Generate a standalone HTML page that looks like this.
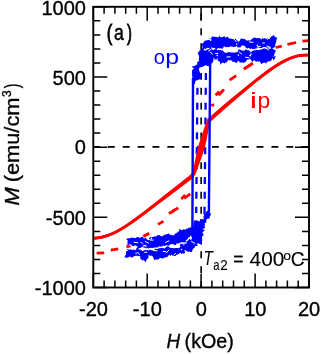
<!DOCTYPE html>
<html><head><meta charset="utf-8"><style>
html,body{margin:0;padding:0;background:#fff;}
svg{display:block;will-change:transform;}
text{font-family:"Liberation Sans",sans-serif;}
</style></head><body>
<svg width="321" height="354" viewBox="0 0 321 354">
<rect width="321" height="354" fill="#fff"/>
<g fill="none" stroke-linecap="butt">
<path d="M201.15 13.43V287.5" stroke="#000" stroke-width="1.6" stroke-dasharray="6.9 7.97"/>
<path d="M93.3 146.9H309" stroke="#000" stroke-width="1.7" stroke-dasharray="6.9 7.97" stroke-dashoffset="0.3"/>
<path d="M197.6 72.9L196.2 213 M205.9 72.9L204.5 213" stroke="#0000ff" stroke-width="2.3" stroke-dasharray="7 7.87"/>
<path d="M93.3 238.3 C94.8 238.1 99.2 237.9 102.1 237.2 C105 236.5 108 235.5 110.9 234.3 C113.8 233.1 116.8 231.6 119.7 229.9 C122.6 228.2 125.6 226.4 128.5 224.4 C131.4 222.4 134.4 220.3 137.3 218.2 C140.2 216.1 143.1 213.9 146 211.7 C148.9 209.5 151.9 207.2 154.8 204.9 C157.7 202.6 160.7 200.4 163.6 198.1 C166.5 195.8 169.5 193.6 172.4 191.3 C175.3 189.1 178.8 186.5 181.2 184.6 C183.6 182.7 185.5 181.2 187 180 C188.5 178.8 189.1 178.4 190 177.7 C190.9 177 191.5 176.8 192.2 175.8 C192.9 174.9 194 172.6 194.4 172 L194.4 172 C195.6 167.8 199.1 155.6 201.5 147 C203.9 138.4 207.4 124.9 208.6 120.5 L208.6 120.5 C209 120.2 209.9 119.6 211 118.6 C212.1 117.6 213.9 116 215.4 114.7 C216.9 113.4 217.6 112.7 219.8 110.8 C222 108.9 225.6 105.8 228.5 103.3 C231.4 100.8 234.4 98.4 237.3 95.9 C240.2 93.5 243.2 91 246.1 88.6 C249 86.2 251.9 83.8 254.8 81.5 C257.7 79.2 260.7 76.9 263.6 74.7 C266.5 72.5 269.4 70.3 272.3 68.3 C275.2 66.3 278.2 64.5 281.1 62.8 C284 61.1 287 59.6 289.9 58.4 C292.8 57.2 296.2 56.2 298.6 55.7 C301 55.2 302.3 55.3 304 55.2 C305.7 55.1 308.2 55 309 55" stroke="#ff0000" stroke-width="2.8" stroke-linejoin="round"/>
<path d="M96.7 253.2L104.2 252.8 M110.8 250.2L118.2 248.9 M126.6 247L130.5 246.4 M143.5 236.2L149.1 233.4 M158 224.4L163.5 221.3 M168.9 213.5L174.5 210.5 M172.5 211L178.3 208 M181.3 198.9L185.2 195 M184.1 198.5L190.3 193.9 M211.3 105.5L214.1 104.6 M215.6 95.2L219.3 91.4 M218.4 95.2L224 89.6 M229.6 80.2L236.2 75.6 M243.9 69L252.8 63.3 M275.6 47.5L281.8 46.2 M287.4 44.3L296.2 42.5 M302.4 41.2L309 40.7" stroke="#ff0000" stroke-width="2.8"/>
<path d="M93.3 238.3 C94.8 238.1 99.2 237.9 102.1 237.2 C105 236.5 108 235.5 110.9 234.3 C113.8 233 116.8 231.5 119.7 229.8 C122.6 228.2 125.6 226.2 128.5 224.3 C131.4 222.3 134.4 220.1 137.3 218 C140.2 215.9 143.1 213.7 146 211.4 C148.9 209.1 151.9 206.8 154.8 204.5 C157.7 202.2 160.7 199.8 163.6 197.5 C166.5 195.2 169.5 192.9 172.4 190.6 C175.3 188.3 178.8 185.7 181.2 183.7 C183.6 181.8 185.5 180.2 187 179.1 C188.4 177.9 189.1 177.5 190 176.7 C190.8 176 191.4 175.8 192.1 174.8 C192.8 173.9 193.9 171.7 194.2 171 L194.2 171 C195.2 166.8 197.3 154.6 199.7 146 C202.1 137.4 207 123.9 208.5 119.5 L208.5 119.5 C208.9 119.2 209.8 118.6 210.9 117.6 C212.1 116.7 213.9 115.1 215.4 113.8 C216.8 112.5 217.6 111.8 219.8 109.9 C222 108.1 225.6 105 228.5 102.6 C231.4 100.1 234.4 97.7 237.3 95.3 C240.2 92.9 243.2 90.5 246.1 88.2 C249 85.8 251.9 83.5 254.8 81.2 C257.7 78.9 260.7 76.7 263.6 74.5 C266.5 72.3 269.4 70.1 272.3 68.2 C275.2 66.2 278.2 64.4 281.1 62.7 C284 61.1 287 59.5 289.9 58.4 C292.8 57.2 296.2 56.2 298.6 55.7 C301 55.1 302.3 55.3 304 55.2 C305.7 55.1 308.2 55 309 55 M93.3 238.3 C94.8 238.1 99.2 237.9 102.1 237.2 C105 236.6 108 235.5 110.9 234.3 C113.8 233.1 116.8 231.6 119.7 230 C122.6 228.3 125.6 226.5 128.5 224.5 C131.4 222.6 134.4 220.5 137.3 218.4 C140.2 216.3 143.1 214.2 146 212 C148.9 209.8 151.9 207.5 154.8 205.3 C157.7 203.1 160.7 200.9 163.6 198.7 C166.5 196.5 169.5 194.2 172.4 192 C175.3 189.8 178.8 187.3 181.2 185.5 C183.6 183.6 185.6 182.1 187 180.9 C188.5 179.8 189.2 179.3 190 178.7 C190.9 178 191.5 177.7 192.3 176.8 C193 175.8 194.2 173.6 194.6 173 L194.6 173 C196 168.8 200.9 156.6 203.3 148 C205.7 139.4 207.8 125.9 208.7 121.5 L208.7 121.5 C209.1 121.2 210 120.5 211.1 119.6 C212.2 118.6 214 116.9 215.4 115.6 C216.9 114.3 217.6 113.6 219.8 111.7 C222 109.7 225.6 106.6 228.5 104 C231.4 101.5 234.4 99 237.3 96.5 C240.2 94 243.2 91.5 246.1 89 C249 86.6 251.9 84.2 254.8 81.8 C257.7 79.5 260.7 77.1 263.6 74.9 C266.5 72.7 269.4 70.4 272.3 68.4 C275.2 66.4 278.2 64.5 281.1 62.9 C284 61.2 287 59.6 289.9 58.4 C292.8 57.2 296.3 56.3 298.6 55.7 C300.9 55.2 302.3 55.3 304 55.2 C305.7 55.1 308.2 55 309 55" stroke="#ff0000" stroke-width="2.6" stroke-linejoin="round"/>
<path d="M192.2 82 L192.2 80.8 L191.6 79.5 L192 78.3 L192.6 77.1 L191.9 75.8 L192.3 74.7 L191.8 73.4 L192.2 72 L191.9 70.6 L192.9 69.5 L194 68.6 L191.6 66.5 L194.7 66.1 L195.9 65.1 L197.5 64.3 L196.9 62.8 L197.7 61.7 L199.4 60.9 L198.6 59.3 L199 58.1 L199.1 56.8 L198.9 55.5 L198 53.9 L197.7 52.6 L199.2 52 L199.1 50.7 L200.6 50.1 L201.4 49.2 L202.3 48.3 L202.5 47.3 L202.3 45.8 L201.1 43.7 L202.7 43.4 L203.5 42.5 L204 41.5 L205.1 40.8 L206.4 40.3 L207.8 40.3 L208.5 39 L209.5 38.4 L211.3 38.8 L211.5 37 L212.5 36.3 L214 36.9 L215.2 36.6 L215.6 37.1 L216.9 36.9 L218 37.6 L219.7 35.7 L220.6 37.4 L222 36.9 L223.1 37.1 L224.3 36 L225.4 37.8 L226.6 36.9 L227.7 36.8 L228.8 38 L229.7 38.7 L230.9 38.4 L232 39.1 L233.2 39.1 L234.2 39.7 L235.6 38.6 L236.5 40.1 L238.8 41.9 L239.9 40.5 L240.8 38.6 L241.8 38.6 L242.9 39 L244.2 38.8 L245.2 39.6 L246.3 40.4 L247.5 40.6 L248.9 40.3 L250 40.7 L251.2 39.5 L252.5 38.7 L253.7 37.5 L254.8 37.8 L255.6 37.7 L256.8 38.2 L258 37.9 L259.1 38 L260.3 38.6 L261.6 39.4 L262.3 38 L263.8 38.7 L264.9 38.1 L266.5 39.3 L267.2 37.9 L269.7 39.2 L270.1 37.6 L271.1 37 L271.8 36.1 L273.2 35.9 L272.2 34.6 L273.2 35.4 L274.3 34.9 L274.3 36 L275.1 36.9 L277.3 37.7 L276.7 39.3 L276.3 40.3 L276.3 41.5 L275.4 42.3 L276.6 41.3 L275.6 43.5 L275.2 45.2 L275.1 45.8 L275.1 47 L272.3 48.3 L273.9 49.5 L276.1 50.7 L275.3 52 L274.6 53.2 L274.3 54.4 L274 55.6 L273.1 56.9 L275.8 55.8 L275 58.3 L273.7 60.4 L272.4 58 L271.4 60.3 L270.3 61.3 L269.1 61.3 L267.9 61.6 L266.8 62.1 L266.2 63.7 L264.8 62.6 L263.7 62.8 L262.5 63 L261.6 64.4 L259.8 61.6 L258.5 61.4 L257.4 61.2 L256.2 61.7 L255.1 61.1 L254 60 L252.8 62.1 L251.7 60.9 L250.3 58.7 L249.2 59.6 L248 59.6 L246.9 59.7 L245.9 61.7 L244.7 62.2 L243.5 63 L242.4 62.3 L241.3 62.5 L240.2 62.7 L239.1 61.6 L237.9 60.6 L236.9 62.7 L235.8 63.1 L234.6 61.8 L233.4 62.1 L232.3 61.6 L231.1 60.1 L229.7 60.6 L228.4 59.9 L227.5 61.1 L226.5 62.4 L225.4 62.6 L224.4 63.6 L223 62.6 L221.7 63.2 L220.7 63.8 L219.9 64.6 L221.1 64.9 L220.1 63.9 L220 62 L216.2 59.6 L214.8 59.6 L213.5 59.9 L212.9 62.2 L211.7 63.2 L210.6 64.6 L209.6 66.2 L208.4 65.9 L208.2 66.4 L205.9 65 L205 65.8 L203.3 66.2 L202.1 67 L199.6 67.4 L198.9 69.1 L199.2 70.6 L199.8 72.2 L200.6 73.7 L201 75.2 L201.5 76.7 L201.1 78 L200.4 79.2 L198 79.4 L197.2 80.5 L196.4 80.2 L195.4 81.3 L194.8 83.3 L195.3 83.8 L193.2 84.2 L193.1 82.8Z" fill="#0000ff"/><path d="M126 239.5 L127.2 238.6 L128.4 238.3 L129.6 238.5 L130.8 237.8 L132 237.6 L133.3 238 L134.5 237.7 L135.7 238.2 L136.8 236.9 L138 237 L139.2 237.8 L140.4 237.7 L141.5 237 L142.6 236.6 L144.1 238.8 L145.1 237.4 L146.6 239 L148 240.2 L149 238.6 L150 237.1 L151.2 237.5 L152.4 237 L153.6 237.1 L154.7 236.1 L156 236.8 L157 235.4 L158.2 235.2 L159.4 235 L160.7 236 L161.9 236.2 L163.1 235.9 L164.1 234.6 L165.3 234.9 L166.4 234.1 L167.6 233.9 L168.7 233.3 L170.3 235.1 L171.3 234.8 L172.7 235.2 L174 235.5 L174.6 234.1 L175.4 233.4 L176.7 233 L177.8 232.1 L178.9 231.3 L179.5 228.8 L181.3 230.2 L182.6 229.9 L183.7 229.1 L185.3 229.9 L186.2 228.4 L187.6 228.7 L188.7 227.7 L190.2 227.8 L191 227 L193.4 227.9 L192.3 225.4 L193.8 225.4 L193.3 223.2 L194 222.2 L193.7 220.5 L195.4 220.5 L196.7 220.2 L199.5 221.4 L199.9 220.2 L200.4 219.1 L203.8 219.2 L203.7 217.9 L203.4 216.6 L204.1 215.7 L203.6 214.1 L203.1 212.8 L204.3 213.2 L205.5 213.3 L206.4 211.8 L207.8 210.6 L209.2 212 L210.8 213.3 L210.8 214.5 L210.3 215.7 L209.7 216.8 L209.6 218.5 L206.8 219.1 L206.4 220.1 L206.2 221.2 L206.5 222.4 L204.5 223 L204.9 224.3 L204.6 225.5 L204.7 226.8 L205 228.2 L202.4 228.8 L204.8 230.5 L203.4 231.4 L202.4 232.4 L202.9 233.7 L203.9 235.1 L202.5 235.9 L201.8 236.9 L201.8 238 L202.2 239.4 L202.2 240.5 L201.9 241.6 L202 243.4 L201.9 244.9 L197.8 242.9 L197.2 244 L197.6 245.9 L195.5 245.7 L195.3 246.3 L194.7 247.6 L193.8 248.2 L192.9 248.9 L192.3 250.2 L192.1 252 L190.7 251.9 L189.1 251.4 L188.3 252.1 L186.7 251 L185.5 251 L184.8 252.7 L184 254 L182.5 253.1 L181.6 254.1 L180.1 253.1 L179 253.5 L178 254.4 L176.8 254.5 L175.9 255.4 L174.9 256.3 L173.5 255.5 L172.6 255.7 L171.4 254.6 L170.4 256 L169.1 254.4 L168.2 256 L167.1 256.9 L166.1 257.4 L165.1 257.2 L163.8 258 L162.5 258.5 L161.3 258.2 L160.1 257.8 L158.7 259.3 L157.7 259.4 L156.6 259.5 L155.4 259.5 L154.3 260.2 L152.8 256.6 L151.6 255.6 L150.4 255.9 L148.8 256.1 L148.3 258.6 L147.1 258.8 L146.3 260.4 L145.6 262.3 L143.6 259.8 L142.3 260.8 L141.5 259.5 L140.3 259.1 L140.3 255.9 L138.8 256.3 L137.7 255.7 L135.7 255.7 L134.5 256.1 L133.3 256.8 L132.1 257.4 L130.8 257.2 L129.6 256.3 L128.4 257.5 L127.2 257.8 L124.9 257.5 L124.6 256.3 L125.6 255.2 L126 254 L126.1 252.8 L126 251.6 L128.2 250.4 L126.8 249.3 L126.8 248.1 L127.8 246.9 L127.4 245.8 L127.4 244.6 L127.5 243.4 L127.5 242.2 L127.6 241 L127.6 239.9Z" fill="#0000ff"/><path d="M222.4 49.5 L224 46.3 L225.6 47.3 L227.3 46.9 L228.9 47.2 L230.5 46.3 L232.1 46.8 L233.7 46.9 L235.4 46.8 L237 46.1 L238.6 49.5 L237 52.4 L235.4 52.3 L233.7 52.7 L232.1 52.2 L230.5 52.4 L228.9 52.1 L227.3 52.3 L225.6 52.5 L224 52Z" fill="#fff"/><path d="M240 48.2 L241.6 45.5 L243.1 45.6 L244.6 46 L246.2 48.2 L244.6 50.8 L243.1 50.6 L241.6 50.3Z" fill="#fff"/><path d="M248.3 49.9 L250.4 48.8 L252.4 49.9 L250.4 51.7Z" fill="#fff"/><path d="M256.5 48.5 L258.6 47.3 L260.6 48.5 L258.6 50.2Z" fill="#fff"/><path d="M264 47.9 L265.8 47.8 L267.7 47.5 L269.5 47.9 L267.7 48.6 L265.8 48.3Z" fill="#fff"/><path d="M126.5 247.6 L128 245.3 L129.5 246.1 L131 245.3 L132.6 246.1 L134.1 246.2 L135.6 245.2 L137.1 247.6 L135.6 249.8 L134.1 249.2 L132.6 249.2 L131 249.2 L129.5 249.4 L128 249.4Z" fill="#fff"/><path d="M139.8 249.1 L141.4 247.3 L142.9 247.1 L144.4 248.1 L146 249.1 L144.4 250.3 L142.9 251.1 L141.4 250.6Z" fill="#fff"/><path d="M150 249.6 L151.6 247.9 L153.3 248.9 L154.9 249.6 L153.3 250.5 L151.6 250.3Z" fill="#fff"/><path d="M157.6 247.5 L159.4 247.1 L161.3 246.3 L163.1 247.5 L161.3 247.9 L159.4 248.2Z" fill="#fff"/><path d="M168 246.2 L169.6 245 L171.2 244.1 L172.7 244.4 L174.3 245.1 L175.9 244.9 L177.4 244.8 L179 244.9 L180.6 246.2 L179 248.2 L177.4 248 L175.9 248 L174.3 248.3 L172.7 248 L171.2 247.9 L169.6 247.5Z" fill="#fff"/><path d="M189.5 238.4 L190.8 235.6 L192 238.4 L190.8 240.3Z" fill="#fff"/><path d="M204 49.1 L205.3 50 L206.7 49 L208 48.4 L209.3 48.8 M212 48.5 L213.2 49.3 L214.5 48.4 M217 49.7 L218.2 48.7 L219.5 49.6 L220.8 48.8 L222 50.1 L223.2 49 L224.5 48.6 L225.8 49.3 L227 49.9 L228.2 50.4 L229.5 49.5 L230.8 49.9 L232 49.7 L233.3 49.1 M236 49.7 L237.3 49.1 L238.7 48 L240 48.3 L241.2 49.5 L242.5 49.6 L243.8 48.3 L245 48.2 L246.2 48.6 L247.5 49.6 L248.8 48.7 L250 50.1 L251.2 49.2 L252.5 49.7 L253.8 49.6 L255 49.5 L256.2 49.2 L257.5 49.6 L258.8 48.6 L260 49 L261.2 48.7 L262.4 48.4 L263.7 47.6 L264.9 47.7 L266.1 48 M268.6 47.8 L269.8 48.1 L271 48.1" stroke="#fff" stroke-width="1.4" fill="none" stroke-linejoin="round"/><path d="M127 248 L128.3 248.2 L129.6 248.7 L130.9 248.1 L132.2 249.2 L133.5 248.6 L134.8 249 L136.1 249.7 M138.7 249 L140 248.6 L141.2 248.5 M143.6 249.3 L144.8 248.3 L146 249.6 L147.2 249.1 L148.4 249.7 L149.6 248.5 L150.8 249.2 L152 248.4 L153.3 249.1 L154.7 248.1 L156 248.1 L157.3 248.3 L158.7 247.5 L160 246.6 M162.5 248 L163.8 246.2 L165 247.2 L166.2 246 L167.5 245.7 M170 245.7 L171.2 245.8 L172.5 245.1 L173.8 244.8 M176.2 244.5 L177.5 244.2 L178.8 244.9 L180 243.5 L181.2 242.8 L182.4 243.4 L183.6 243.4 M186 241.3 L187 240.4 L188 239.5 L189 238 L190 237.9 L191 236.2" stroke="#fff" stroke-width="1.4" fill="none" stroke-linejoin="round"/><path d="M239.1 49.3l2 -1.4 M250.5 52.1l2.7 -2.5 M208.6 51l2.6 -1.7 M249.8 55.5l1.9 -1.7 M267.4 39.3l2.9 -2.2 M226.4 52.5l3.1 -2 M208.3 39.4l2.9 0.4 M266.3 48.5l2.3 1.5 M257.1 47l3.2 -0.6 M210.4 51.9l1.9 2.3 M249.5 42l3.4 0.3 M211.5 48l3.6 0.8 M234.2 39.2l2 2.4 M262.7 43.1l1.8 -0.1 M224.2 49.8l2.4 1.1 M266.9 46l3.2 1.2 M215.6 53.4l2.2 0.2 M238.9 51.7l2.7 2.5 M209.5 39.6l1.3 1.1 M251.3 50.7l2.3 -0.8 M245.6 57.2l3.5 0.7 M226.9 57l3.3 -0.2" stroke="#fff" stroke-width="1.0" stroke-linecap="round" fill="none"/><circle cx="217.3" cy="59.3" r="0.8" fill="#fff"/><circle cx="213.9" cy="59" r="0.8" fill="#fff"/><circle cx="217.2" cy="55.6" r="0.8" fill="#fff"/><circle cx="238.4" cy="55.1" r="0.8" fill="#fff"/><circle cx="236.8" cy="44" r="0.8" fill="#fff"/><circle cx="257.3" cy="45.3" r="0.8" fill="#fff"/><circle cx="225" cy="51.7" r="0.8" fill="#fff"/><circle cx="250.3" cy="55.6" r="0.8" fill="#fff"/><path d="M166.4 252.9l2.1 -2.5 M137.7 252.3l1.9 2.2 M143.8 245.2l2.2 1.1 M143 246.2l3.1 -1 M145.2 241.5l3.4 1.7 M178.1 243.6l1.4 1.2 M191.5 241.4l3.4 2 M163.1 251.4l2.7 0.2 M162.6 246.8l2.1 1.2 M174.2 254.7l1.6 -1.6 M153.3 250.3l3.8 0.6 M128.6 245.2l2.8 0.2 M150.7 240l2.5 0.1 M144.6 252.3l2.3 0 M140.9 242.4l1.5 0.9 M146.5 248.2l2.1 1.2 M182.8 242.9l3.8 -0 M183.4 244.9l1.9 -1.8 M148.2 239.5l2.2 0.4 M134 242.3l3.7 0.4 M165.5 242.4l3.5 -1.5 M134.2 246.1l2.9 0.6" stroke="#fff" stroke-width="1.0" stroke-linecap="round" fill="none"/><circle cx="136.1" cy="253.2" r="0.8" fill="#fff"/><circle cx="149" cy="255.9" r="0.8" fill="#fff"/><circle cx="151.4" cy="238.5" r="0.8" fill="#fff"/><circle cx="130.2" cy="244.7" r="0.8" fill="#fff"/><circle cx="171.7" cy="246.8" r="0.8" fill="#fff"/><circle cx="180.4" cy="254.1" r="0.8" fill="#fff"/><circle cx="181.5" cy="249.5" r="0.8" fill="#fff"/><circle cx="185.2" cy="250.7" r="0.8" fill="#fff"/><path d="M193.0 80L192.4 229 M210.2 60L208.9 212" stroke="#0000ff" stroke-width="2.4" fill="none"/>
<path d="M126.6 246.8L130.5 246.3 M143.5 236.2L149.1 233.4 M243.9 69L252.8 63.3" stroke="#ff0000" stroke-width="2.6"/>
<path d="M93.3 287.5V273.5 M93.3 6.8V20.8 M104.1 287.5V280.5 M104.1 6.8V13.8 M114.9 287.5V280.5 M114.9 6.8V13.8 M125.7 287.5V280.5 M125.7 6.8V13.8 M136.4 287.5V280.5 M136.4 6.8V13.8 M147.2 287.5V273.5 M147.2 6.8V20.8 M158 287.5V280.5 M158 6.8V13.8 M168.8 287.5V280.5 M168.8 6.8V13.8 M179.6 287.5V280.5 M179.6 6.8V13.8 M190.4 287.5V280.5 M190.4 6.8V13.8 M201.1 287.5V273.5 M201.1 6.8V20.8 M211.9 287.5V280.5 M211.9 6.8V13.8 M222.7 287.5V280.5 M222.7 6.8V13.8 M233.5 287.5V280.5 M233.5 6.8V13.8 M244.3 287.5V280.5 M244.3 6.8V13.8 M255.1 287.5V273.5 M255.1 6.8V20.8 M265.9 287.5V280.5 M265.9 6.8V13.8 M276.6 287.5V280.5 M276.6 6.8V13.8 M287.4 287.5V280.5 M287.4 6.8V13.8 M298.2 287.5V280.5 M298.2 6.8V13.8 M309 287.5V273.5 M309 6.8V20.8 M93.3 287.5H107.3 M309 287.5H295 M93.3 273.5H100.3 M309 273.5H302 M93.3 259.4H100.3 M309 259.4H302 M93.3 245.4H100.3 M309 245.4H302 M93.3 231.4H100.3 M309 231.4H302 M93.3 217.3H107.3 M309 217.3H295 M93.3 203.3H100.3 M309 203.3H302 M93.3 189.3H100.3 M309 189.3H302 M93.3 175.2H100.3 M309 175.2H302 M93.3 161.2H100.3 M309 161.2H302 M93.3 147.2H107.3 M309 147.2H295 M93.3 133.1H100.3 M309 133.1H302 M93.3 119.1H100.3 M309 119.1H302 M93.3 105H100.3 M309 105H302 M93.3 91H100.3 M309 91H302 M93.3 77H107.3 M309 77H295 M93.3 62.9H100.3 M309 62.9H302 M93.3 48.9H100.3 M309 48.9H302 M93.3 34.9H100.3 M309 34.9H302 M93.3 20.8H100.3 M309 20.8H302 M93.3 6.8H107.3 M309 6.8H295" stroke="#000" stroke-width="1.5"/>
<rect x="93.3" y="6.8" width="215.7" height="280.7" stroke="#000" stroke-width="1.9"/>
</g>
<g font-size="20" fill="#000" stroke="#000" stroke-width="0.35">
<text x="85.9" y="14.8" text-anchor="end">1000</text>
<text x="85.9" y="84.8" text-anchor="end">500</text>
<text x="85.9" y="154.3" text-anchor="end">0</text>
<text x="85.9" y="225.2" text-anchor="end">-500</text>
<text x="85.9" y="294.6" text-anchor="end">-1000</text>
<text x="93.5" y="316.3" text-anchor="middle">-20</text>
<text x="147.3" y="316.3" text-anchor="middle">-10</text>
<text x="201.2" y="316.3" text-anchor="middle">0</text>
<text x="255.3" y="316.3" text-anchor="middle">10</text>
<text x="309" y="316.3" text-anchor="middle">20</text>
<text x="166.52" y="348.00" font-size="20" font-style="italic" fill="#000" stroke="#000" textLength="13.66" lengthAdjust="spacingAndGlyphs">H</text>
<text x="184.58" y="348.00" font-size="20" fill="#000" stroke="#000" textLength="49.24" lengthAdjust="spacingAndGlyphs">(kOe)</text>
<text transform="translate(19.2 0) rotate(-90)" x="-205.68" y="0" font-size="20" font-style="italic" fill="#000" stroke="#000" textLength="18.48" lengthAdjust="spacingAndGlyphs">M</text>
<text transform="translate(19.2 0) rotate(-90)" x="-182.35" y="0" font-size="20" fill="#000" stroke="#000" textLength="84.79" lengthAdjust="spacingAndGlyphs">(emu/cm</text>
<text transform="translate(11.3 0) rotate(-90)" x="-97.06" y="0" font-size="13" fill="#000" stroke="#000" textLength="6.69" lengthAdjust="spacingAndGlyphs">3</text>
<text transform="translate(19.2 0) rotate(-90)" x="-88.18" y="0" font-size="20" fill="#000" stroke="#000" textLength="4.65" lengthAdjust="spacingAndGlyphs">)</text>
<text x="106.87" y="39.60" font-size="22.8" fill="#000" stroke="#000" textLength="5.53" lengthAdjust="spacingAndGlyphs" stroke-width="0.9">(</text>
<text x="113.95" y="39.80" font-size="22.8" fill="#000" stroke="#000" textLength="9.85" lengthAdjust="spacingAndGlyphs" stroke-width="0.5">a</text>
<text x="127.01" y="39.60" font-size="22.8" fill="#000" stroke="#000" textLength="4.90" lengthAdjust="spacingAndGlyphs" stroke-width="0.9">)</text>
<text x="153.76" y="63.70" font-size="21" fill="#0000ff" stroke="#0000ff" textLength="11.19" lengthAdjust="spacingAndGlyphs" stroke-width="0">o</text>
<text x="165.29" y="63.70" font-size="21" fill="#0000ff" stroke="#0000ff" textLength="13.85" lengthAdjust="spacingAndGlyphs" stroke-width="0">p</text>
<text x="249.79" y="107.80" font-size="22" fill="#ff0000" stroke="#ff0000" textLength="7.33" lengthAdjust="spacingAndGlyphs" stroke-width="0">i</text>
<text x="257.42" y="107.80" font-size="22" fill="#ff0000" stroke="#ff0000" textLength="12.74" lengthAdjust="spacingAndGlyphs" stroke-width="0">p</text>
<text x="203.54" y="265.20" font-size="20" font-style="italic" fill="#000" stroke="#000" textLength="9.27" lengthAdjust="spacingAndGlyphs" stroke-width="0.1">T</text>
<text x="213.32" y="270.40" font-size="14.4" fill="#000" stroke="#000" textLength="6.28" lengthAdjust="spacingAndGlyphs" stroke-width="0.1">a</text>
<text x="220.33" y="270.40" font-size="14.4" fill="#000" stroke="#000" textLength="7.45" lengthAdjust="spacingAndGlyphs" stroke-width="0.1">2</text>
<text x="233.34" y="265.60" font-size="20" fill="#000" stroke="#000" textLength="10.34" lengthAdjust="spacingAndGlyphs" stroke-width="0.1">=</text>
<text x="249.62" y="265.60" font-size="20" fill="#000" stroke="#000" textLength="34.69" lengthAdjust="spacingAndGlyphs" stroke-width="0.1">400</text>
<text x="283.31" y="260.30" font-size="13" fill="#000" stroke="#000" textLength="7.77" lengthAdjust="spacingAndGlyphs" stroke-width="0.1">o</text>
<text x="290.63" y="265.60" font-size="20" fill="#000" stroke="#000" textLength="13.80" lengthAdjust="spacingAndGlyphs" stroke-width="0.1">C</text>
</g>
</svg>
</body></html>
